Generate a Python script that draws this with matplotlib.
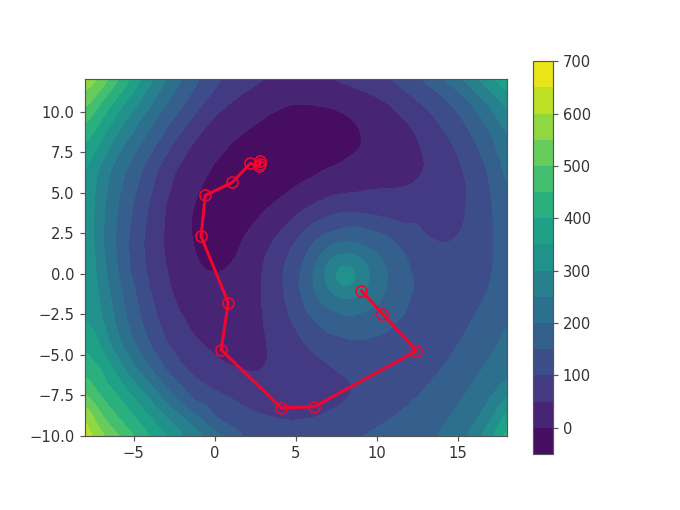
"""Filled contour map with the descent path drawn on top."""
import numpy as np
import matplotlib
matplotlib.use('Agg')
import matplotlib.pyplot as plt
import matplotlib.tri as mtri

# Field samples: (x, y) spots on each contour line
line_m0 = [(4.66,4.95),(5.90,5.76),(7.13,6.50),(8.18,7.12),(8.86,7.67),(9.17,8.23),(8.86,9.03),(8.18,9.78),
           (7.13,10.27),(5.90,10.45),(4.66,10.45),(4.04,10.21),(2.81,9.47),(1.14,8.23),(-0.09,6.81),(-1.08,4.95),
           (-1.45,3.47),(-1.39,2.23),(-1.08,1.0),(-0.71,0.38),(0.21,0.07),(0.83,0.5),(1.27,1.12),(2.0,2.48),(3.24,3.90),
           (3.4,9.85),(1.97,8.85),(0.52,7.52),(-0.6,5.88),(-1.3,4.2),(-1.45,2.85),(1.63,1.8),(2.6,3.2),(3.95,4.45)]
line_50 = [(7.13,12),(9.17,11.32),(10.84,10.52),(12.07,9.28),(12.82,7.8),(13.0,6.81),(12.57,5.76),(11.64,5.26),
           (9.42,5.08),(7.32,4.83),(5.9,4.09),(5.16,3.72),(3.74,2.23),(2.99,0.38),(2.93,-1.35),(3.12,-3.39),
           (3.3,-5.06),(2.81,-6.11),(1.57,-5.99),(0.15,-5.24),(-1.51,-3.82),(-2.75,-1.04),(-3.24,1.93),(-2.44,6.44),
           (-0.59,9.16),(0.83,10.52),(3.12,12),
           (8.2,11.7),(10.0,10.95),(11.5,9.95),(12.5,8.55),(12.85,6.2),(12.2,5.45),(10.5,5.15),(8.4,4.97),(6.6,4.5),
           (4.45,3.0),(3.25,1.3),(2.9,-0.5),(3.0,-2.4),(3.25,-4.2),(3.15,-5.65),(2.2,-6.15),(0.85,-5.7),(-0.7,-4.55),
           (-2.2,-2.5),(-3.05,0.4),(-3.1,4.2),(-1.55,7.9),(0.1,9.9),(1.9,11.3)]
line_100 = [(0.46,12),(-1.51,9.47),(-3.55,6.44),(-4.42,1.93),(-3.92,-1.35),(-2.87,-4.44),(-1.21,-6.48),(0.77,-7.53),
            (3.24,-8.77),(4.85,-9.08),(5.9,-8.95),(7.32,-8.33),(8.49,-7.1),(7.94,-6.29),(6.7,-5.24),(5.47,-4.25),
            (4.66,-2.77),(4.23,-0.61),(4.48,1.0),(5.16,2.23),(6.39,3.29),(8.06,3.78),(10.84,3.29),(12.88,2.36),
            (14.36,1.86),(15.16,2.48),(15.66,4.52),(15.35,6.44),(14.36,8.72),(13.12,10.15),(11.46,11.51),(10.84,12),
            (-0.55,10.7),(-2.6,8),(-4.1,4.2),(-4.3,0.3),(-3.5,-3),(-1.75,-6),(-0.25,-7.05),(2.0,-8.25),(4.05,-9.0),
            (6.6,-8.7),(8.05,-7.8),(7.3,-5.75),(6.05,-4.75),(5.0,-3.5),(4.35,-1.7),(4.25,0.3),(4.75,1.65),(5.7,2.85),
            (7.2,3.6),(9.45,3.6),(11.9,2.85),(13.6,2.05),(15.5,3.4),(15.6,5.5),(14.95,7.6),(13.8,9.4),(12.3,10.85)]
line_150 = [(-0.9,12),(-2.63,9.47),(-4.48,6.44),(-5.34,1.93),(-4.85,-1.35),(-3.99,-4.44),(-1.39,-7.84),(1.76,-10),
            (8.99,-10),(11.46,-8.58),(12.69,-7.53),(14.11,-5.86),(15.04,-4.44),(16.83,-1.35),(17.26,1.12),(17.26,2.98),
            (16.83,6.44),(15.78,8.72),(14.54,10.58),(12.69,12),
            (-1.75,10.7),(-3.6,8),(-5.05,4.2),(-5.25,0.3),(-4.5,-3),(-3.0,-6),(0.1,-9),(10.3,-9.35),(13.4,-6.7),
            (15.95,-2.9),(17.1,-0.1),(17.3,2.0),(17.15,4.7),(16.35,7.6),(15.2,9.7),(13.7,11.3)]
ring_150 = [(12.2,-0.55),(11.7,1.21),(10.44,2.51),(8.68,2.98),(6.92,2.51),(5.63,1.21),(5.16,-0.55),(5.63,-2.31),
            (6.92,-3.6),(8.68,-4.07),(10.44,-3.6),(11.7,-2.31)]
line_200 = [(-2.01,12),(-3.68,9.47),(-5.47,6.44),(-6.15,1.93),(-5.71,-1.35),(-4.91,-4.44),(-2.44,-7.72),(0.65,-10),
            (13.74,-10),(15.16,-7.96),(16.52,-5.86),(17.45,-4.44),(18,-3.2),(18,5.14),(17.76,6.44),(17.02,8.72),
            (15.78,10.58),(14.05,12),
            (-2.85,10.7),(-4.6,8),(-6.0,4.2),(-6.0,0.3),(-5.4,-3),(-3.9,-6),(-0.8,-9),(14.45,-9),(15.85,-6.9),(17.0,-5.15),
            (17.45,7.6),(16.45,9.7),(15.0,11.35)]
ring_200 = [(10.65,-0.3),(10.47,0.59),(9.97,1.34),(8.34,2.02),(6.7,1.34),(6.2,0.59),(6.02,-0.3),(6.2,-1.19),
            (6.7,-1.94),(8.34,-2.62),(9.97,-1.94),(10.47,-1.19)]
line_250 = [(-2.94,12),(-4.6,9.47),(-6.46,6.44),(-6.89,1.93),(-6.46,-1.35),(-5.71,-4.44),(-3.37,-7.53),(-0.59,-10),
            (15.6,-10),(17.02,-7.72),(18,-6.6),(18,8.6),(16.58,10.76),(15.16,12),
            (-3.75,10.7),(-5.6,8),(-6.8,4.2),(-6.75,0.3),(-6.15,-3),(-4.7,-6),(-2.0,-8.8),(16.35,-8.9),(17.5,-7.15),
            (17.35,9.7),(15.9,11.4)]
ring_250 = [(6.76,-0.11),(6.89,0.69),(7.32,1.06),(8.06,1.25),(8.86,1.12),(9.42,0.5),(9.54,-0.3),(9.29,-1.04),
            (8.68,-1.47),(7.94,-1.54),(7.13,-1.16)]
line_300 = [(-3.8,12),(-5.53,9.47),(-7.2,6.44),(-7.44,1.93),(-7.07,-1.35),(-6.46,-4.44),(-4.29,-7.34),(-1.82,-10),
            (16.4,-10),(17.2,-8.77),(18,-7.53),(18,10.15),(17.45,10.95),(16.21,12),
            (-4.65,10.7),(-6.4,8),(-7.45,4.2),(-7.3,0.3),(-6.85,-3),(-5.5,-6),(-3.1,-8.7),(16.8,-9.4),(17.6,-8.15)]
ring_300 = [(7.38,-0.11),(7.57,0.38),(8.06,0.63),(8.55,0.38),(8.74,-0.11),(8.55,-0.61),(8.06,-0.86),(7.57,-0.61)]
line_350 = [(-4.48,12),(-6.27,9.47),(-7.88,6.44),(-8,6.07),(-8,-2.77),(-7.07,-4.44),(-5.1,-7.53),(-2.94,-10),
            (17.2,-10),(18,-8.33),(18,11.13),(17.14,12),
            (-5.4,10.7),(-7.1,8),(-6.2,-6),(-4.05,-8.8)]
line_400 = [(-5.22,12),(-6.89,9.59),(-8,7.92),(-8,-4.75),(-7.69,-4.44),(-5.84,-7.65),(-3.99,-10),(17.63,-10),(18,-9.57),
            (-6.1,10.8),(-7.5,8.7),(-6.85,-6.0),(-4.9,-8.85)]
line_450 = [(-5.84,12),(-7.07,10.52),(-8,9.1),(-8,-6.29),(-6.58,-8.15),(-4.91,-10),
            (-6.5,11.25),(-7.55,9.85),(-7.35,-7.2),(-5.8,-9.1)]
line_500 = [(-6.52,12),(-8,10.08),(-8,-7.34),(-7.07,-8.58),(-5.84,-10),(-7.3,11.0),(-6.5,-9.3)]
line_550 = [(-7.14,12),(-8,11.2),(-8,-8.15),(-7.51,-8.95),(-6.76,-10)]
line_600 = [(-8,-8.64),(-7.51,-10)]

# Spots between the lines, with the value estimated from the band they sit in
inner_x = [5.28,7.75,3.12,1.27,-0.16,0.03, 11.15,12.07,10.22,8.37,5.28,0.96,1.27,2.19,2.5,2.19,5.28,
           14.24,14.54,13.31,13.0,11.46,9.91,6.51,8.06,5.28,4.04,2.19,0.03,5.28,4.66,3.74,3.55,
           13.74,14.54,13.31,11.15,9.29,8.06,7.13,15.78,16.27,16.4,12.07,5.28,3.43,7.13,
           18,18,18,-8,8.06,-8,-8,18,18]
inner_y = [8.85,8.72,7.61,5.76,2.67,1.12, 6.68,7.61,7.92,5.76,4.83,-1.66,-4.13,-5.06,-2.28,-0.42,12,
           2.98,5.76,7.61,4.21,4.21,4.4,-6.91,-7.22,-7.53,-8.15,-7.53,-6.29,-5.99,-4.13,-1.66,0.81,
           0.2,-1.04,-3.51,-5.68,-7.53,-9.08,-4.75,2.05,4.52,0.2,2.67,-10,-10,-10,
           3,0,-2,1.93,-0.11,12,-10,12,-10]
inner_z = [-35,-35,-35,-35,-35,-35, 30,30,25,25,25,25,30,40,40,30,30,
           80,80,75,75,75,75,75,85,70,80,70,70,70,70,75,75,
           125,125,125,125,120,120,125,120,125,130,120,125,130,125,
           185,178,190,345,345,585,640,385,425]

# Descent path
path_x = [9.05,10.34,12.44,6.14,4.1,0.4,0.83,-0.84,-0.59,1.08,2.2,2.75,2.81,2.78]
path_y = [-1.04,-2.46,-4.75,-8.2,-8.27,-4.69,-1.78,2.3,4.83,5.63,6.81,6.62,6.93,6.78]

levels = list(range(-50, 701, 50))

lines = [(line_m0, 0), (line_50, 50), (line_100, 100), (line_150, 150), (ring_150, 150),
         (line_200, 200), (ring_200, 200), (line_250, 250), (ring_250, 250), (line_300, 300),
         (ring_300, 300), (line_350, 350), (line_400, 400), (line_450, 450), (line_500, 500),
         (line_550, 550), (line_600, 600)]
xs = list(inner_x)
ys = list(inner_y)
zs = list(inner_z)
for pts, val in lines:
    xs += [p[0] for p in pts]
    ys += [p[1] for p in pts]
    zs += [val] * len(pts)

# Put the samples on a mesh through the triangulation
tri = mtri.Triangulation(np.array(xs), np.array(ys))
interp = mtri.LinearTriInterpolator(tri, np.array(zs, dtype=float))
gx, gy = np.meshgrid(np.linspace(-8, 18, 261), np.linspace(-10, 12, 221))
gz = np.asarray(interp(gx, gy).filled(np.nan))
gz[np.isnan(gz)] = np.nanmean(gz)

# Slight blur to take the corners off the straight triangle edges
kernel = np.exp(-0.5 * (np.arange(-9, 10) / 3.0) ** 2)
kernel /= kernel.sum()
padded = np.pad(gz, 9, mode='edge')
padded = np.apply_along_axis(lambda r: np.convolve(r, kernel, mode='same'), 0, padded)
padded = np.apply_along_axis(lambda r: np.convolve(r, kernel, mode='same'), 1, padded)
gz = padded[9:-9, 9:-9]

fig, ax = plt.subplots(figsize=(6.4, 4.8), dpi=106.25)
cs = ax.contourf(gx, gy, gz, levels=levels, cmap='viridis')
ax.plot(path_x, path_y, 'o-', color='#f5052d', linewidth=2, markersize=7.5,
        markerfacecolor='none', markeredgewidth=1.1)
ax.set_xlim(-8, 18)
ax.set_ylim(-10, 12)
cbar = fig.colorbar(cs, ax=ax)
ax.set_aspect('equal')

# The text and frame read a little softer than pure black in the reference
for a in (ax, cbar.ax):
    a.tick_params(colors='#555555', labelcolor='#333333')
    for s in a.spines.values():
        s.set_edgecolor('#555555')
cbar.outline.set_edgecolor('#555555')

fig.savefig('out.png', dpi=106.25)
